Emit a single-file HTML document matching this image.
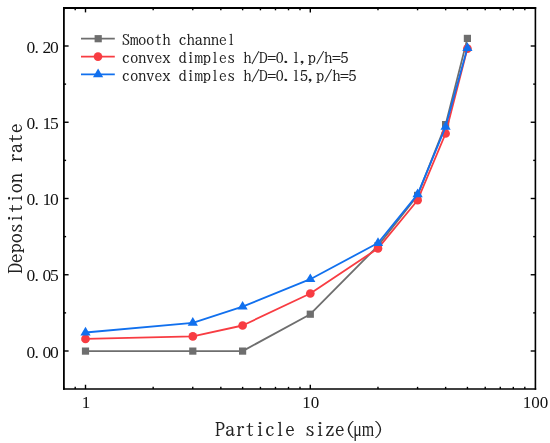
<!DOCTYPE html><html><head><meta charset="utf-8"><style>html,body{margin:0;padding:0;background:#fff;width:550px;height:443px;overflow:hidden;}svg{display:block}</style></head><body>
<svg width="550" height="443" viewBox="0 0 550 443">
<rect width="550" height="443" fill="#fff"/>
<g stroke="#000" stroke-width="1.4"><line x1="63.71" y1="389.05" x2="63.71" y2="386.85" /><line x1="63.71" y1="8.1" x2="63.71" y2="10.3" /><line x1="75.21" y1="389.05" x2="75.21" y2="386.85" /><line x1="75.21" y1="8.1" x2="75.21" y2="10.3" /><line x1="85.50" y1="389.05" x2="85.50" y2="384.75" /><line x1="85.50" y1="8.1" x2="85.50" y2="12.399999999999999" /><line x1="153.17" y1="389.05" x2="153.17" y2="386.85" /><line x1="153.17" y1="8.1" x2="153.17" y2="10.3" /><line x1="192.76" y1="389.05" x2="192.76" y2="386.85" /><line x1="192.76" y1="8.1" x2="192.76" y2="10.3" /><line x1="220.84" y1="389.05" x2="220.84" y2="386.85" /><line x1="220.84" y1="8.1" x2="220.84" y2="10.3" /><line x1="242.63" y1="389.05" x2="242.63" y2="386.85" /><line x1="242.63" y1="8.1" x2="242.63" y2="10.3" /><line x1="260.43" y1="389.05" x2="260.43" y2="386.85" /><line x1="260.43" y1="8.1" x2="260.43" y2="10.3" /><line x1="275.48" y1="389.05" x2="275.48" y2="386.85" /><line x1="275.48" y1="8.1" x2="275.48" y2="10.3" /><line x1="288.51" y1="389.05" x2="288.51" y2="386.85" /><line x1="288.51" y1="8.1" x2="288.51" y2="10.3" /><line x1="300.01" y1="389.05" x2="300.01" y2="386.85" /><line x1="300.01" y1="8.1" x2="300.01" y2="10.3" /><line x1="310.30" y1="389.05" x2="310.30" y2="384.75" /><line x1="310.30" y1="8.1" x2="310.30" y2="12.399999999999999" /><line x1="377.97" y1="389.05" x2="377.97" y2="386.85" /><line x1="377.97" y1="8.1" x2="377.97" y2="10.3" /><line x1="417.56" y1="389.05" x2="417.56" y2="386.85" /><line x1="417.56" y1="8.1" x2="417.56" y2="10.3" /><line x1="445.64" y1="389.05" x2="445.64" y2="386.85" /><line x1="445.64" y1="8.1" x2="445.64" y2="10.3" /><line x1="467.43" y1="389.05" x2="467.43" y2="386.85" /><line x1="467.43" y1="8.1" x2="467.43" y2="10.3" /><line x1="485.23" y1="389.05" x2="485.23" y2="386.85" /><line x1="485.23" y1="8.1" x2="485.23" y2="10.3" /><line x1="500.28" y1="389.05" x2="500.28" y2="386.85" /><line x1="500.28" y1="8.1" x2="500.28" y2="10.3" /><line x1="513.31" y1="389.05" x2="513.31" y2="386.85" /><line x1="513.31" y1="8.1" x2="513.31" y2="10.3" /><line x1="524.81" y1="389.05" x2="524.81" y2="386.85" /><line x1="524.81" y1="8.1" x2="524.81" y2="10.3" /><line x1="63.9" y1="351.00" x2="68.6" y2="351.00" /><line x1="535.4" y1="351.00" x2="530.6999999999999" y2="351.00" /><line x1="63.9" y1="312.88" x2="66.1" y2="312.88" /><line x1="535.4" y1="312.88" x2="533.1999999999999" y2="312.88" /><line x1="63.9" y1="274.75" x2="68.6" y2="274.75" /><line x1="535.4" y1="274.75" x2="530.6999999999999" y2="274.75" /><line x1="63.9" y1="236.62" x2="66.1" y2="236.62" /><line x1="535.4" y1="236.62" x2="533.1999999999999" y2="236.62" /><line x1="63.9" y1="198.50" x2="68.6" y2="198.50" /><line x1="535.4" y1="198.50" x2="530.6999999999999" y2="198.50" /><line x1="63.9" y1="160.38" x2="66.1" y2="160.38" /><line x1="535.4" y1="160.38" x2="533.1999999999999" y2="160.38" /><line x1="63.9" y1="122.25" x2="68.6" y2="122.25" /><line x1="535.4" y1="122.25" x2="530.6999999999999" y2="122.25" /><line x1="63.9" y1="84.12" x2="66.1" y2="84.12" /><line x1="535.4" y1="84.12" x2="533.1999999999999" y2="84.12" /><line x1="63.9" y1="46.00" x2="68.6" y2="46.00" /><line x1="535.4" y1="46.00" x2="530.6999999999999" y2="46.00" /></g>
<path d="M63.9,7.1V389.8" stroke="#000" stroke-width="1.8"/>
<path d="M535.4,7.1V389.8" stroke="#000" stroke-width="1.6"/>
<path d="M63.0,8.1H536.1999999999999" stroke="#000" stroke-width="2.0"/>
<path d="M63.0,389.05H536.1999999999999" stroke="#000" stroke-width="1.5"/>
<polyline points="85.5,351.1 192.8,351.1 242.6,351.1 310.3,314.2 378.0,245.8 417.6,195.4 445.6,124.6 467.4,38.4" fill="none" stroke="#6e6e6e" stroke-width="1.8" stroke-linejoin="round"/>
<rect x="81.90" y="347.50" width="7.2" height="7.2" fill="#6e6e6e"/><rect x="189.20" y="347.50" width="7.2" height="7.2" fill="#6e6e6e"/><rect x="239.00" y="347.50" width="7.2" height="7.2" fill="#6e6e6e"/><rect x="306.70" y="310.60" width="7.2" height="7.2" fill="#6e6e6e"/><rect x="374.40" y="242.20" width="7.2" height="7.2" fill="#6e6e6e"/><rect x="414.00" y="191.80" width="7.2" height="7.2" fill="#6e6e6e"/><rect x="442.00" y="121.00" width="7.2" height="7.2" fill="#6e6e6e"/><rect x="463.80" y="34.80" width="7.2" height="7.2" fill="#6e6e6e"/>
<polyline points="85.5,338.9 192.8,336.4 242.6,325.5 310.3,293.5 378.0,248.4 417.6,200.2 445.6,133.5 467.4,48.6" fill="none" stroke="#f83c42" stroke-width="1.8" stroke-linejoin="round"/>
<circle cx="85.50" cy="338.90" r="4.35" fill="#f83c42"/><circle cx="192.80" cy="336.40" r="4.35" fill="#f83c42"/><circle cx="242.60" cy="325.50" r="4.35" fill="#f83c42"/><circle cx="310.30" cy="293.50" r="4.35" fill="#f83c42"/><circle cx="378.00" cy="248.40" r="4.35" fill="#f83c42"/><circle cx="417.60" cy="200.20" r="4.35" fill="#f83c42"/><circle cx="445.60" cy="133.50" r="4.35" fill="#f83c42"/><circle cx="467.40" cy="48.60" r="4.35" fill="#f83c42"/>
<polyline points="85.5,332.5 192.8,322.9 242.6,306.7 310.3,279.2 378.0,243.0 417.6,194.4 445.6,126.8 467.4,48.0" fill="none" stroke="#1170ee" stroke-width="1.8" stroke-linejoin="round"/>
<polygon points="85.50,326.70 80.40,335.40 90.60,335.40" fill="#1170ee"/><polygon points="192.80,317.10 187.70,325.80 197.90,325.80" fill="#1170ee"/><polygon points="242.60,300.90 237.50,309.60 247.70,309.60" fill="#1170ee"/><polygon points="310.30,273.40 305.20,282.10 315.40,282.10" fill="#1170ee"/><polygon points="378.00,237.20 372.90,245.90 383.10,245.90" fill="#1170ee"/><polygon points="417.60,188.60 412.50,197.30 422.70,197.30" fill="#1170ee"/><polygon points="445.60,121.00 440.50,129.70 450.70,129.70" fill="#1170ee"/><polygon points="467.40,42.20 462.30,50.90 472.50,50.90" fill="#1170ee"/>
<line x1="81" y1="38.7" x2="114.8" y2="38.7" stroke="#6e6e6e" stroke-width="1.8"/>
<rect x="94.60" y="35.10" width="7.2" height="7.2" fill="#6e6e6e"/>
<text transform="translate(121.30,44.90) scale(1.3,1)" font-family="'BIZ UDMincho','IPAGothic','Noto Sans Mono CJK SC',monospace" font-size="14.5" letter-spacing="-1.019" fill="#222">Smooth channel</text>
<line x1="81" y1="56.6" x2="114.8" y2="56.6" stroke="#f83c42" stroke-width="1.8"/>
<circle cx="98.00" cy="56.60" r="4.35" fill="#f83c42"/>
<text transform="translate(121.30,62.80) scale(1.3,1)" font-family="'BIZ UDMincho','IPAGothic','Noto Sans Mono CJK SC',monospace" font-size="14.5" letter-spacing="-1.019" fill="#222">convex dimples h/D=0.1,p/h=5</text>
<line x1="81" y1="74.4" x2="114.8" y2="74.4" stroke="#1170ee" stroke-width="1.8"/>
<polygon points="98.10,68.60 93.00,77.30 103.20,77.30" fill="#1170ee"/>
<text transform="translate(121.30,80.60) scale(1.3,1)" font-family="'BIZ UDMincho','IPAGothic','Noto Sans Mono CJK SC',monospace" font-size="14.5" letter-spacing="-1.019" fill="#222">convex dimples h/D=0.15,p/h=5</text>
<text x="26.5 34.4 38.0 42.6 49.9" y="357.5" font-family="'Liberation Serif','Times New Roman',serif" font-size="17.5" fill="#111" xml:space="preserve">0. 00</text>
<text x="26.5 34.4 38.0 42.6 49.9" y="281.2" font-family="'Liberation Serif','Times New Roman',serif" font-size="17.5" fill="#111" xml:space="preserve">0. 05</text>
<text x="26.5 34.4 38.0 42.6 49.9" y="205.0" font-family="'Liberation Serif','Times New Roman',serif" font-size="17.5" fill="#111" xml:space="preserve">0. 10</text>
<text x="26.5 34.4 38.0 42.6 49.9" y="128.7" font-family="'Liberation Serif','Times New Roman',serif" font-size="17.5" fill="#111" xml:space="preserve">0. 15</text>
<text x="26.5 34.4 38.0 42.6 49.9" y="52.5" font-family="'Liberation Serif','Times New Roman',serif" font-size="17.5" fill="#111" xml:space="preserve">0. 20</text>
<text x="86.0" y="408.3" text-anchor="middle" font-family="'Liberation Serif','Times New Roman',serif" font-size="17" fill="#111">1</text>
<text x="310.8" y="408.3" text-anchor="middle" font-family="'Liberation Serif','Times New Roman',serif" font-size="17" fill="#111">10</text>
<text x="535.6" y="408.3" text-anchor="middle" font-family="'Liberation Serif','Times New Roman',serif" font-size="17" fill="#111">100</text>
<text transform="translate(214.20,435.70) scale(1.33,1)" font-family="'BIZ UDMincho','IPAGothic','Noto Sans Mono CJK SC',monospace" font-size="17.5" letter-spacing="-1.231" fill="#222">Particle size(<tspan x="104.51" font-family="'Liberation Serif','Times New Roman',serif" font-size="20" letter-spacing="0" textLength="15.79" lengthAdjust="spacingAndGlyphs">μm</tspan><tspan x="119.55">)</tspan></text>
<text transform="translate(21.80,274.00) rotate(-90) scale(1.33,1)" font-family="'BIZ UDMincho','IPAGothic','Noto Sans Mono CJK SC',monospace" font-size="17.5" letter-spacing="-1.231" fill="#222">Deposition rate</text>
</svg></body></html>
